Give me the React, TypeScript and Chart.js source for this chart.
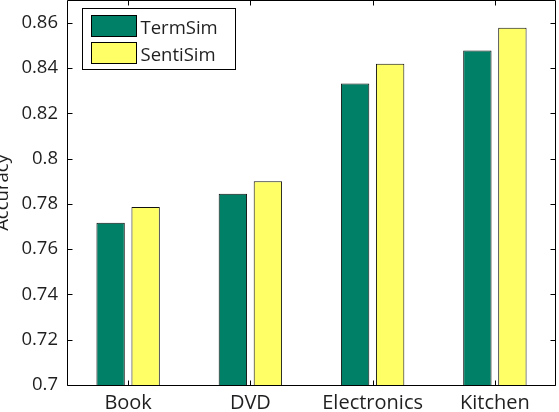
import React, { useEffect, useRef } from "react";
import { Chart, registerables } from "chart.js";

Chart.register(...registerables);

const categories = ["Book", "DVD", "Electronics", "Kitchen"];
const seriesNames = ["TermSim", "SentiSim"];
const termSim = [0.7716, 0.7844, 0.8331, 0.8477];
const sentiSim = [0.7786, 0.79, 0.8419, 0.8578];
const yTicks = [0.7, 0.72, 0.74, 0.76, 0.78, 0.8, 0.82, 0.84, 0.86];
const yMin = 0.7;
const yMax = 0.87;
const yTitle = "Accuracy";

const GREEN = "#008066";
const YELLOW = "#FFFF66";
const TEXT = "#1f1f1f";
const FONT = "'Open Sans', 'DejaVu Sans', sans-serif";

const framePlugin = {
  id: "matlabFrame",
  afterDatasetsDraw(chart: any) {
    const { ctx, chartArea, scales } = chart;
    const { left, right, top, bottom } = chartArea;
    const L = Math.round(left) + 0.5;
    const R = Math.round(right) - 0.5;
    const T = Math.round(top) + 0.5;
    const B = Math.round(bottom) + 0.5;
    ctx.save();
    ctx.strokeStyle = "#000";
    ctx.lineWidth = 1;
    // ticks
    ctx.beginPath();
    const tl = 5;
    yTicks.forEach((v) => {
      const y = Math.round(scales.y.getPixelForValue(v)) + 0.5;
      ctx.moveTo(L, y);
      ctx.lineTo(L + tl, y);
      ctx.moveTo(R, y);
      ctx.lineTo(R - tl, y);
    });
    categories.forEach((_, i) => {
      const x = Math.round(scales.x.getPixelForValue(i)) + 0.5;
      ctx.moveTo(x, B);
      ctx.lineTo(x, B - tl);
      ctx.moveTo(x, T);
      ctx.lineTo(x, T + tl);
    });
    ctx.stroke();
    // frame
    ctx.beginPath();
    ctx.rect(L, T, R - L, B - T);
    ctx.stroke();

    // legend
    const lx = 82.5, ly = 8.5, lw = 153, lh = 61;
    ctx.fillStyle = "#fff";
    ctx.fillRect(lx, ly, lw, lh);
    ctx.strokeRect(lx, ly, lw, lh);
    const datasets = chart.data.datasets;
    datasets.forEach((ds: any, i: number) => {
      const sy = 15.5 + i * 27;
      ctx.fillStyle = ds.backgroundColor;
      ctx.fillRect(91.5, sy, 45, 21);
      ctx.strokeRect(91.5, sy, 45, 21);
      ctx.fillStyle = TEXT;
      ctx.font = `18.5px ${FONT}`;
      ctx.textAlign = "left";
      ctx.textBaseline = "alphabetic";
      ctx.fillText(ds.label, 140.5, sy + 18);
    });

    // y title (partially clipped at left edge, as in reference)
    ctx.save();
    ctx.translate(8, (top + bottom) / 2);
    ctx.rotate(-Math.PI / 2);
    ctx.fillStyle = TEXT;
    ctx.font = `18.5px ${FONT}`;
    ctx.textAlign = "center";
    ctx.textBaseline = "alphabetic";
    ctx.fillText(yTitle, 0, 0);
    ctx.restore();

    ctx.restore();
  },
};

export default function App() {
  const ref = useRef<HTMLCanvasElement | null>(null);

  useEffect(() => {
    document.body.style.margin = "0";
    const canvas = ref.current;
    if (!canvas) return;
    const chart = new Chart(canvas, {
      type: "bar",
      data: {
        labels: categories,
        datasets: [
          {
            label: seriesNames[0],
            data: termSim,
            backgroundColor: GREEN,
            borderColor: "#111",
            borderWidth: 1,
            categoryPercentage: 0.573,
            barPercentage: 0.81,
          },
          {
            label: seriesNames[1],
            data: sentiSim,
            backgroundColor: YELLOW,
            borderColor: "#111",
            borderWidth: 1,
            categoryPercentage: 0.573,
            barPercentage: 0.81,
          },
        ],
      },
      options: {
        responsive: false,
        animation: false,
        devicePixelRatio: 1,
        layout: { padding: { top: 0, right: 3, left: 0, bottom: 0 } },
        plugins: {
          legend: { display: false },
          tooltip: { enabled: false },
          title: { display: false },
        },
        scales: {
          x: {
            grid: { display: false, drawTicks: false },
            border: { display: false },
            ticks: {
              color: TEXT,
              font: { family: FONT, size: 20 },
              padding: 6,
              maxRotation: 0,
              autoSkip: false,
            },
            afterFit: (scale: any) => {
              scale.height = 27;
              scale.paddingLeft = 0;
              scale.paddingRight = 0;
            },
          },
          y: {
            min: yMin,
            max: yMax,
            grid: { display: false, drawTicks: false },
            border: { display: false },
            afterBuildTicks: (scale: any) => {
              scale.ticks = yTicks.map((v) => ({ value: v }));
            },
            ticks: {
              color: TEXT,
              font: { family: FONT, size: 18.5 },
              padding: 9,
              callback: (v: any) => String(Number(Number(v).toFixed(2))),
            },
            afterFit: (scale: any) => {
              scale.width = 67;
              scale.paddingTop = 0;
              scale.paddingBottom = 0;
            },
          },
        },
      },
      plugins: [framePlugin],
    });
    return () => chart.destroy();
  }, []);

  return (
    <div style={{ width: 559, height: 412 }}>
      <canvas ref={ref} width={559} height={412} style={{ display: "block" }} />
    </div>
  );
}
